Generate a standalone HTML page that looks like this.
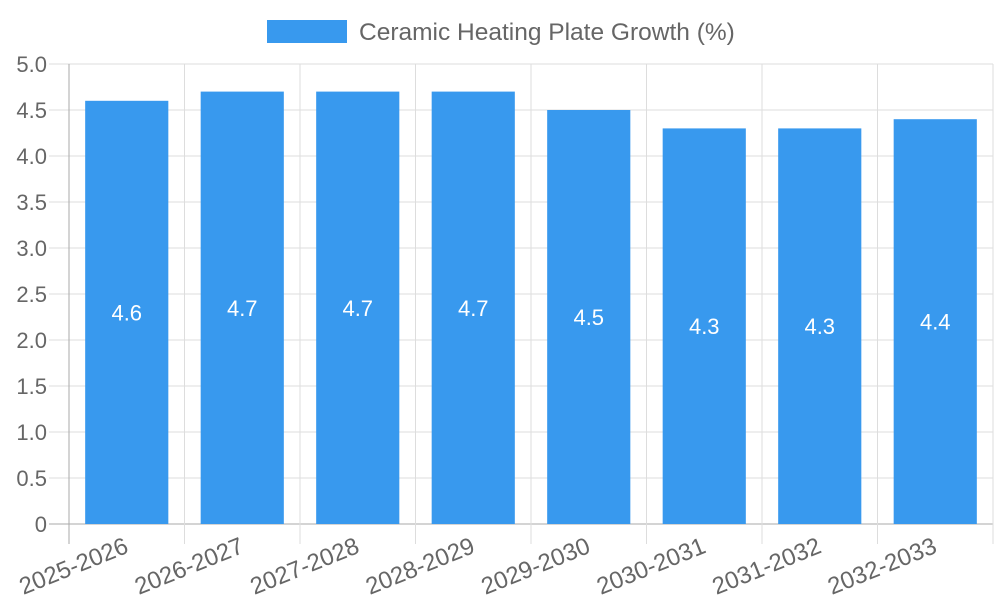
<!DOCTYPE html>
<html><head><meta charset="utf-8"><style>
body{margin:0;background:#fff;}
svg{display:block;font-family:"Liberation Sans",sans-serif;}
</style></head><body>
<svg id="chart" width="1000" height="600"></svg>
<script>
const categories=["2025-2026","2026-2027","2027-2028","2028-2029","2029-2030","2030-2031","2031-2032","2032-2033"];
const values=[4.6,4.7,4.7,4.7,4.5,4.3,4.3,4.4];
const yTicks=[0,0.5,1,1.5,2,2.5,3,3.5,4,4.5,5];
const yTickLabels=["0","0.5","1.0","1.5","2.0","2.5","3.0","3.5","4.0","4.5","5.0"];
const NS="http://www.w3.org/2000/svg";
const svg=document.getElementById('chart');
const L=69,R=993,T=64,B=524,yMax=5;
const cw=(R-L)/categories.length;
const y=v=>B-(v/yMax)*(B-T);
const x=i=>L+cw*i;
function mk(t,a,p){const e=document.createElementNS(NS,t);for(const k in a)e.setAttribute(k,a[k]);(p||svg).appendChild(e);return e;}
yTicks.forEach((v,i)=>{
 const g=mk('line',{x1:49,x2:R,y1:y(v),y2:y(v),stroke:i===0?'#aaa':'#ddd','stroke-width':1});
 
 
 const t=mk('text',{x:47,y:y(v)+8,'text-anchor':'end','font-size':22,fill:'#666'});
 t.textContent=yTickLabels[i];
 
 
});
for(let i=0;i<=categories.length;i++){
 const g=mk('line',{x1:x(i),x2:x(i),y1:T,y2:544,stroke:i===0?'#aaa':'#ddd','stroke-width':1});
 
 
}
categories.forEach((c,i)=>{
 const bw=cw*0.72,bx=x(i)+(cw-bw)/2;
 const r=mk('rect',{x:bx,y:y(values[i]),width:bw,height:B-y(values[i]),fill:'#3899ee'});
 
 
 const vt=mk('text',{x:x(i)+cw/2,y:(y(values[i])+B)/2+8,'text-anchor':'middle','font-size':22,fill:'#fff'});
 vt.textContent=values[i].toFixed(1);
 
 
 const cx=x(i)+cw/2+3,cy=552;
 const t=mk('text',{x:cx,y:cy,'text-anchor':'end','font-size':24,fill:'#666',transform:`rotate(-22 ${cx} ${cy})`});
 t.textContent=c;
 
 
});
const lg=mk('g',{});


mk('rect',{x:267,y:20,width:80,height:23,fill:'#3899ee'},lg);
const lt=mk('text',{x:359,y:40,'font-size':24.5,fill:'#666'},lg);
lt.textContent="Ceramic Heating Plate Growth (%)";
</script>
</body></html>
